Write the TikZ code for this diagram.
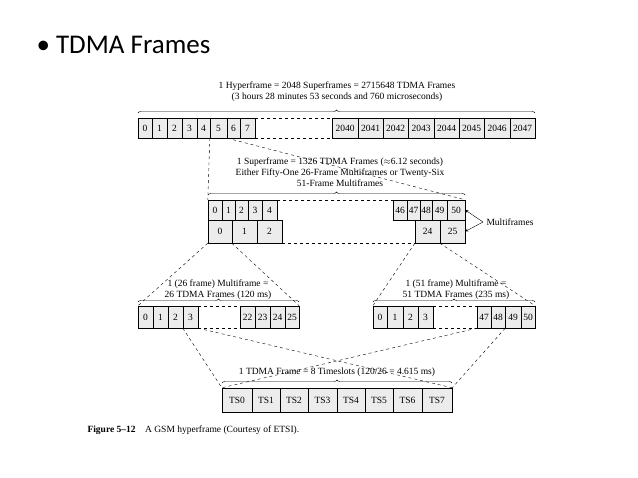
\documentclass[tikz,border=0pt]{standalone}
\usepackage{fontspec}
\setmainfont{Liberation Serif}
\newfontfamily\titlefont{Carlito}
\usetikzlibrary{decorations.pathreplacing}
\usetikzlibrary{calc}
\tikzset{
	slot/.style={draw, fill=gray!15, inner sep=0pt, font=\fontsize{9.5}{9.5}\selectfont},
	gap/.style={dashed},
	span/.style={decorate, decoration={brace, amplitude=3pt}},
	note/.style={font=\fontsize{9.5}{11}\selectfont, align=center},
}
\newcommand{\slotcell}[6] % name, x0, x1, y0, y1, label
{
	\node[slot, minimum width={(#3-#2)*1pt}, minimum height={(#5-#4)*1pt}]
		(#1) at ({(#2+#3)/2},{(#4+#5)/2}) {#6};
}

\begin{document}
\begin{tikzpicture}[x=1pt, y=-1pt]
	\useasboundingbox (0,0) rectangle (638,478);
	% slide title
	\node[anchor=west, font=\titlefont\fontsize{27}{27}\selectfont] (title) at (33,45) {\textbullet\ TDMA Frames};

	% hyperframe
	\node[note] (hyptxt) at (337,92) {1 Hyperframe = 2048 Superframes = 2715648 TDMA Frames\\(3 hours 28 minutes 53 seconds and 760 microseconds)};
	\foreach \t/\a/\b in {0/138/152,1/152/167,2/167/182,3/182/197,4/197/210,5/210/227,6/227/240,7/240/255}
		\slotcell{h\t}{\a}{\b}{118}{138}{\t};
	\foreach \t/\a/\b in {2040/332/358,2041/358/383,2042/383/408,2043/408/434,2044/434/459,2045/459/484,2046/484/510,2047/510/535}
		\slotcell{h\t}{\a}{\b}{118}{138}{\t};
	\draw[gap] (h7.north east) -- (h2040.north west);
	\draw[gap] (h7.south east) -- (h2040.south west);
	\draw[span] (138,113) -- (535,113);

	% superframe
	\node[note] (suptxt) at (340,172) {1 Superframe = 1326 TDMA Frames ($\approx$6.12 seconds)\\Either Fifty-One 26-Frame Multiframes or Twenty-Six\\51-Frame Multiframes};
	\foreach \t/\a/\b in {0/208/222,1/222/235,2/235/248,3/248/262,4/262/277,46/393/407,47/407/420,48/420/432,49/432/447,50/447/465}
		\slotcell{s\t}{\a}{\b}{200}{220}{\t};
	\foreach \t/\a/\b in {0/208/232,1/232/257,2/257/282,24/415/440,25/440/465}
		\slotcell{m\t}{\a}{\b}{220}{243}{\t};
	\draw[gap] (s4.north east) -- (s46.north west);
	\draw[gap] (m2.south east) -- (m24.south west);
	\draw[span] (208,195) -- (465,195);
	\draw[gap] (h5.south west) -- (s0.north west);
	\draw[gap] (h5.south east) -- (s50.north east);
	\node[note, anchor=west] (multi) at (483,222) {Multiframes};
	\draw[->, >=stealth] (multi.west) -- (s50.east);
	\draw[->, >=stealth] (multi.west) -- (m25.east);

	% 26-frame multiframe
	\node[note] (mf26txt) at (218,290) {1 (26 frame) Multiframe =\\26 TDMA Frames (120 ms)};
	\foreach \t/\a/\b in {0/138/153,1/153/168,2/168/183,3/183/198,22/240/255,23/255/270,24/270/285,25/285/299}
		\slotcell{a\t}{\a}{\b}{306}{328}{\t};
	\draw[gap] (a3.north east) -- (a22.north west);
	\draw[gap] (a3.south east) -- (a22.south west);
	\draw[span] (138,302) -- (299,302);
	\draw[gap] (m0.south west) -- (a0.north west);
	\draw[gap] (m1.south west) -- (a25.north east);

	% 51-frame multiframe
	\node[note] (mf51txt) at (456,290) {1 (51 frame) Multiframe =\\51 TDMA Frames (235 ms)};
	\foreach \t/\a/\b in {0/373/387,1/387/403,2/403/418,3/418/433,47/477/491,48/491/505,49/505/521,50/521/535}
		\slotcell{b\t}{\a}{\b}{306}{328}{\t};
	\draw[gap] (b3.north east) -- (b47.north west);
	\draw[gap] (b3.south east) -- (b47.south west);
	\draw[span] (373,302) -- (535,302);
	\draw[gap] (m24.south west) -- (b0.north west);
	\draw[gap] (m25.south west) -- (b50.north east);

	% TDMA frame
	\node[note] (tdmatxt) at (337,372) {1 TDMA Frame = 8 Timeslots (120/26 = 4.615 ms)};
	\foreach \t/\a/\b in {0/222/252,1/252/280,2/280/308,3/308/337,4/337/365,5/365/393,6/393/422,7/422/452}
		\slotcell{ts\t}{\a}{\b}{388}{412}{TS\t};
	\draw[span] (222,383) -- (452,383);
	\draw[gap] (a3.south west) -- (ts0.north west);
	\draw[gap] (a3.south east) -- (ts7.north east);
	\draw[gap] (b47.south west) -- (ts0.north west);
	\draw[gap] (b48.south east) -- (ts7.north east);

	% caption
	\node[anchor=west, font=\fontsize{9.5}{9.5}\selectfont] (caption) at (84,430) {\textbf{Figure 5--12}\quad A GSM hyperframe (Courtesy of ETSI).};
\end{tikzpicture}
\end{document}
